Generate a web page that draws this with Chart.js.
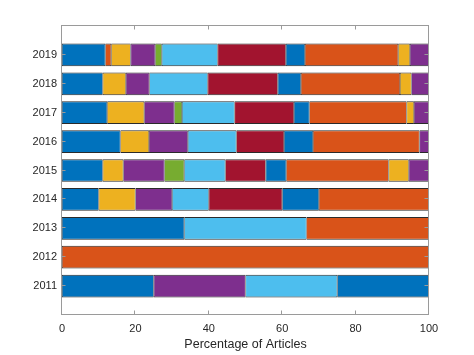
<!DOCTYPE html>
<html><head><meta charset="utf-8">
<script src="https://cdn.jsdelivr.net/npm/chart.js@4.4.0/dist/chart.umd.min.js"></script>
<style>html,body{margin:0;padding:0;background:#fff;}#wrap{width:474px;height:355px;position:relative;}</style>
</head><body><div id="wrap"><canvas id="c" width="474" height="355"></canvas></div>
<script>
// Category labels (top to bottom); empty entries are axis padding (2020 / 2010)
const years = ['', '2019', '2018', '2017', '2016', '2015', '2014', '2013', '2012', '2011', ''];
const xTicks = [0, 20, 40, 60, 80, 100];
const xTitle = 'Percentage of Articles';

// Segment widths (percent), in stacking order
const blue1      = [null, 11.8, 11.1, 12.3, 15.9, 11.1, 10, 33.3, null, 25, null];
const orange1    = [null, 1.6, null, null, null, null, null, null, null, null, null];
const yellow1    = [null, 5.3, 6.3, 10.1, 7.8, 5.6, 10, null, null, null, null];
const purple1    = [null, 6.7, 6.4, 8.2, 10.6, 11.2, 10, null, null, 25, null];
const green1     = [null, 1.8, null, 2.1, null, 5.4, null, null, null, null, null];
const lightblue1 = [null, 15.2, 15.9, 14.3, 13.2, 11.2, 10, 33.3, null, 25, null];
const darkred1   = [null, 18.6, 19.1, 16.2, 13.0, 11.0, 20, null, null, null, null];
const blue2      = [null, 5.2, 6.3, 4.2, 7.9, 5.6, 10, null, null, 25, null];
const orange2    = [null, 25.4, 27.0, 26.5, 29.0, 27.9, 30, 33.4, 100, null, null];
const yellow2    = [null, 3.2, 3.1, 2.0, null, 5.5, null, null, null, null, null];
const purple2    = [null, 5.2, 4.8, 4.1, 2.6, 5.5, null, null, null, null, null];

const C = {blue:'#0072BD', orange:'#D95319', yellow:'#EDB120', purple:'#7E2F8E',
           green:'#77AC30', lightblue:'#4DBEEE', darkred:'#A2142F'};
const series = [
  [blue1, C.blue], [orange1, C.orange], [yellow1, C.yellow], [purple1, C.purple],
  [green1, C.green], [lightblue1, C.lightblue], [darkred1, C.darkred],
  [blue2, C.blue], [orange2, C.orange], [yellow2, C.yellow], [purple2, C.purple]
];

const FONT = "'Liberation Sans', Arial, sans-serif";
const AXC = '#9a9a9a';

const boxPlugin = {
  id: 'box',
  afterDatasetsDraw(chart) {
    const {ctx, scales: {x, y}} = chart;
    const L = Math.round(x.getPixelForValue(0)) - 0.5;
    const R = Math.round(x.getPixelForValue(100)) - 0.5;
    const T = Math.round(y.getPixelForValue(0)) - 0.5;
    const B = Math.round(y.getPixelForValue(years.length - 1)) - 0.5;
    const tl = 4;
    ctx.save();
    ctx.strokeStyle = AXC;
    ctx.lineWidth = 1;
    ctx.beginPath();
    xTicks.forEach(v => {
      const p = Math.round(x.getPixelForValue(v)) - 0.5;
      ctx.moveTo(p, B); ctx.lineTo(p, B - tl);
      ctx.moveTo(p, T); ctx.lineTo(p, T + tl);
    });
    years.forEach((lab, i) => {
      if (!lab) return;
      const p = Math.round(y.getPixelForValue(i)) - 0.5;
      ctx.moveTo(L, p); ctx.lineTo(L + tl, p);
      ctx.moveTo(R, p); ctx.lineTo(R - tl, p);
    });
    ctx.stroke();
    ctx.strokeRect(L, T, R - L, B - T);
    ctx.restore();
  }
};

new Chart(document.getElementById('c'), {
  type: 'bar',
  data: {
    labels: years,
    datasets: series.map(([d, col]) => ({
      data: d, backgroundColor: col, borderColor: '#2a2a2a',
      borderWidth: {left: 0.6, right: 0.6, top: 1, bottom: 1}, borderSkipped: false,
      barPercentage: 0.785, categoryPercentage: 1
    }))
  },
  options: {
    indexAxis: 'y',
    responsive: false,
    animation: false,
    layout: {padding: {left: 0, right: 45, top: 26, bottom: 0}},
    plugins: {legend: {display: false}, tooltip: {enabled: false}, title: {display: false}},
    scales: {
      x: {
        type: 'linear', min: 0, max: 100, stacked: true,
        afterBuildTicks: s => { s.ticks = xTicks.map(v => ({value: v})); },
        afterFit: s => { s.height = 40; },
        grid: {display: false, drawTicks: false},
        border: {display: false},
        ticks: {color: '#262626', font: {family: FONT, size: 11}, padding: 7, maxRotation: 0},
        title: {display: true, text: xTitle, color: '#262626', font: {family: FONT, size: 12.5}, padding: {top: 0, bottom: 3}}
      },
      y: {
        type: 'category', stacked: true, offset: false,
        afterFit: s => { s.width = 62; },
        grid: {display: false, drawTicks: false, offset: false},
        border: {display: false},
        ticks: {color: '#262626', font: {family: FONT, size: 11}, padding: 5, autoSkip: false}
      }
    }
  },
  plugins: [boxPlugin]
});
</script>
</body></html>
